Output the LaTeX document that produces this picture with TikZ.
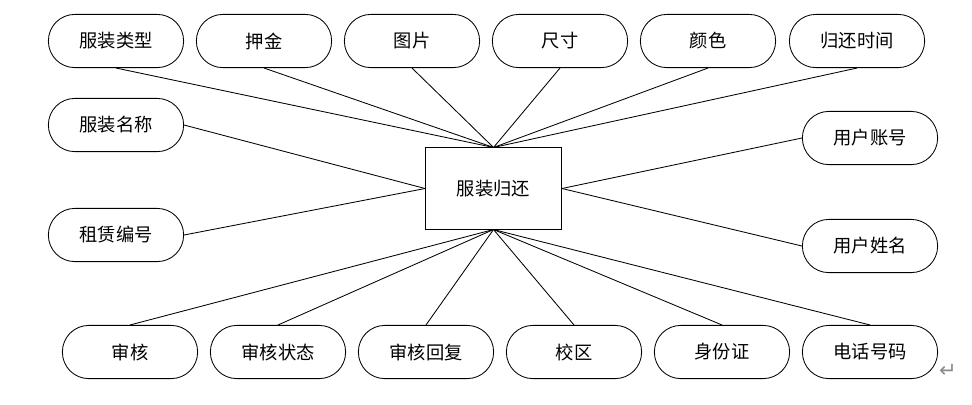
\documentclass[tikz,border=0pt]{standalone}
\usepackage{fontspec}
\newfontfamily\cjk{Noto Sans CJK SC}
\newfontfamily\symfont{DejaVu Sans}
\usetikzlibrary{positioning}

\begin{document}
\begin{tikzpicture}[x=0.025cm,y=-0.025cm,line width=0.6pt,
	attr/.style={draw,rounded corners=0.66cm,minimum width=3.38cm,minimum height=1.33cm,font=\cjk\fontsize{13}{15}\selectfont},
	entity/.style={draw,minimum width=3.4cm,minimum height=2.03cm,font=\cjk\fontsize{13}{15}\selectfont}]
			\useasboundingbox (0,0) rectangle (972,404);

			\node[entity] (main) at (493.5,188.5) {服装归还};

			% top row
			\node[attr] (type) at (116,41) {服装类型};
			\node[attr] (deposit) at (264,41) {押金};
			\node[attr] (pic) at (412,41) {图片};
			\node[attr] (size) at (560,41) {尺寸};
			\node[attr] (color) at (708,41) {颜色};
			\node[attr] (rettime) at (857,41) {归还时间};

			% left and right
			\node[attr] (name) at (116,125) {服装名称};
			\node[attr] (rentno) at (116,235) {租赁编号};
			\node[attr] (account) at (870,138) {用户账号};
			\node[attr] (user) at (870,246) {用户姓名};

			% bottom row
			\node[attr] (audit) at (130,352) {审核};
			\node[attr] (state) at (278,352) {审核状态};
			\node[attr] (reply) at (426,352) {审核回复};
			\node[attr] (campus) at (574,352) {校区};
			\node[attr] (idcard) at (722,352) {身份证};
			\node[attr] (phone) at (870,352) {电话号码};

			\node[text=black!45,font=\symfont\fontsize{15}{17}\selectfont] (mark) at (948,371) {↵};

			\draw (type.south) -- (main.north);
			\draw (deposit.south) -- (main.north);
			\draw (pic.south) -- (main.north);
			\draw (size.south) -- (main.north);
			\draw (color.south) -- (main.north);
			\draw (rettime.south) -- (main.north);
			\draw (name.east) -- (main.west);
			\draw (rentno.east) -- (main.west);
			\draw (account.west) -- (main.east);
			\draw (user.west) -- (main.east);
			\draw (audit.north) -- (main.south);
			\draw (state.north) -- (main.south);
			\draw (reply.north) -- (main.south);
			\draw (campus.north) -- (main.south);
			\draw (idcard.north) -- (main.south);
			\draw (phone.north) -- (main.south);
		\end{tikzpicture}
\end{document}
